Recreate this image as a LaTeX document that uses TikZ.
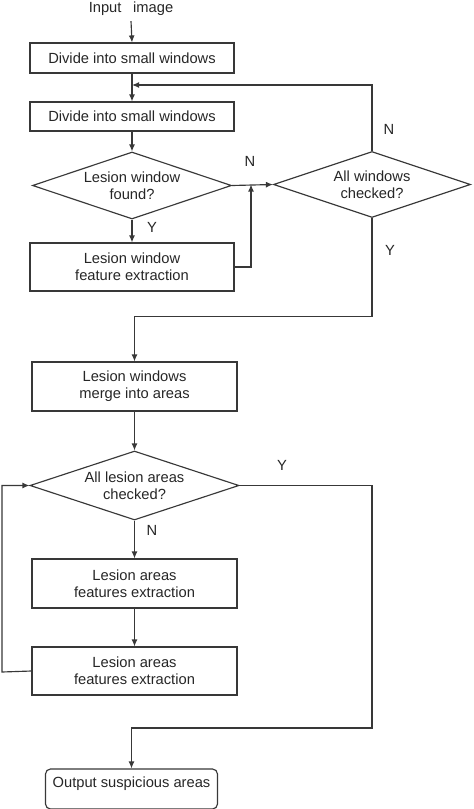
\documentclass[tikz,border=0pt]{standalone}
\usepackage{fontspec}
\setmainfont{Liberation Sans}
\usetikzlibrary{shapes.geometric,arrows.meta,calc}
\begin{document}
\begin{tikzpicture}[x=1pt,y=-1pt,
  font=\fontsize{14.7}{17}\selectfont,
  every node/.style={text=black!85},
  line/.style={draw=black!78,line width=1.15pt},
  arr/.style={line,-{Latex[length=7pt,width=6pt]}},
  procbox/.style={line,rectangle,inner sep=0pt,align=center},
  decision/.style={line,diamond,inner sep=0pt,shape aspect=3,align=center},
  endbox/.style={line,rectangle,rounded corners=5pt,inner sep=0pt,align=center},
  lbl/.style={inner sep=0pt}]
\useasboundingbox (0,0) rectangle (474,809);

\node[lbl] (in) at (131,9) {Input\hspace{0.8em}image};
\node[procbox,minimum width=204,minimum height=30] (b1) at (132,58) {Divide into small windows};
\node[procbox,minimum width=204,minimum height=29] (b2) at (132,116.5) {Divide into small windows};
\node[decision,minimum width=199,minimum height=67] (d1) at (132,185.5) {Lesion window\\found?};
\node[procbox,minimum width=204,minimum height=48] (b3) at (132,267) {Lesion window\\feature extraction};
\node[decision,minimum width=197,minimum height=66] (d2) at (372,184.5) {All windows\\checked?};
\node[procbox,minimum width=205,minimum height=49] (b4) at (134.5,386.5) {Lesion windows\\merge into areas};
\node[decision,minimum width=209,minimum height=69] (d3) at (134.5,485.5) {All lesion areas\\checked?};
\node[procbox,minimum width=205,minimum height=49] (b5) at (134.5,583.5) {Lesion areas\\features extraction};
\node[procbox,minimum width=205,minimum height=48] (b6) at (134.5,671) {Lesion areas\\features extraction};
\node[endbox,minimum width=172,minimum height=40,text height=16pt,text depth=20pt] (out) at (131.5,789) {Output suspicious areas};

\node[lbl] (ly1) at (152,227) {Y};
\node[lbl] (ln1) at (250,161) {N};
\node[lbl] (ln2) at (389,129) {N};
\node[lbl] (ly2) at (390,250) {Y};
\node[lbl] (ly3) at (282,465) {Y};
\node[lbl] (ln3) at (152,530) {N};

\coordinate (j1) at (132,85);
\coordinate (j2) at (251,184.5);
\coordinate (j3) at (372,316.5);
\coordinate (j4) at (372,728);
\coordinate (j5) at (2,672);

\draw[arr] (in.south) ++(0,5) -- (b1.north);
\draw[arr] (b1.south) -- (b2.north);
\draw[arr] (d2.north) |- (j1);
\draw[arr] (b2.south) -- (d1.north);
\draw[arr] (d1.south) -- (b3.north);
\draw[arr] (d1.east) -- (d2.west);
\draw[arr] (b3.east) -| (j2);
\draw[arr] (d2.south) -- (j3) -| (b4.north);
\draw[arr] (b4.south) -- (d3.north);
\draw[arr] (d3.east) -| (j4) -| (out.north);
\draw[arr] (d3.south) -- (b5.north);
\draw[arr] (b5.south) -- (b6.north);
\draw[arr] (b6.west) -- (j5) |- (d3.west);
\end{tikzpicture}
\end{document}
